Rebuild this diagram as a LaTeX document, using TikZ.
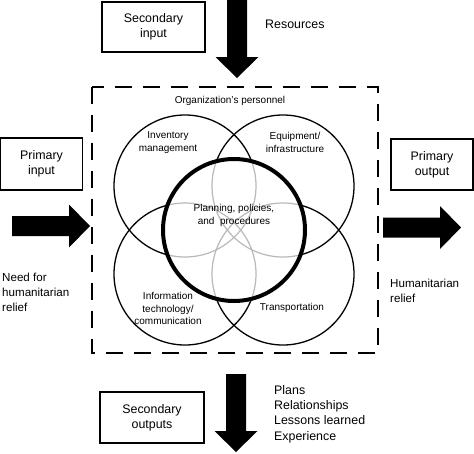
\documentclass[tikz,border=0pt]{standalone}
\usepackage{fontspec}
\setmainfont{Liberation Sans}
\usepackage{tikz}

\tikzset{
  inbox/.style={draw, line width=1.1pt, minimum height=50pt, align=center, font=\fontsize{12.4}{15}\selectfont},
  sidetext/.style={align=left, inner sep=0pt, font=\fontsize{11.6}{15}\selectfont},
  bigtext/.style={align=left, inner sep=0pt, font=\fontsize{12.4}{15.3}\selectfont},
  areatext/.style={align=center, inner sep=0pt, font=\fontsize{10}{12.3}\selectfont}
}

\begin{document}
\begin{tikzpicture}[x=1pt, y=-1pt]
    \useasboundingbox (0,0) rectangle (474,453);

    % organization
    \draw[line width=1.3pt, dash pattern=on 17pt off 11pt] (92,87) rectangle (378,353);
    \node[areatext] (staff) at (230,101) {Organization's personnel};

    \coordinate (inv) at (185,186);
    \coordinate (equ) at (283,186);
    \coordinate (ict) at (185,274);
    \coordinate (tra) at (283,274);
    \coordinate (ppp) at (234,230);

    \foreach \c in {inv, equ, ict, tra}
      \draw[line width=1.3pt] (\c) circle (71);
    \fill[white] (ppp) circle (71);
    \begin{scope}
      \clip (ppp) circle (71);
      \foreach \c in {inv, equ, ict, tra}
        \draw[gray!55, line width=1.2pt] (\c) circle (71);
    \end{scope}
    \draw[line width=4pt] (ppp) circle (71);

    \node[areatext] (invtext) at (168,142.5) {Inventory\\management};
    \node[areatext] (equtext) at (295,142.5) {Equipment/\\infrastructure};
    \node[areatext] (ppptext) at (234,215.5) {Planning, policies,\\and\ \ procedures};
    \node[areatext] (icttext) at (168,308.5) {Information\\technology/\\communication};
    \node[areatext] (tratext) at (292,308) {Transportation};

    % inputs and outputs
    \node[inbox, minimum width=103pt] (secin) at (153.5,27) {Secondary\\input};
    \node[inbox, minimum width=82pt, minimum height=52pt] (primin) at (41.5,164) {Primary\\input};
    \node[inbox, minimum width=82pt, minimum height=51pt] (primout) at (432,164.5) {Primary\\output};
    \node[inbox, minimum width=104pt, minimum height=51pt] (secout) at (152,417.5) {Secondary\\outputs};

    \node[bigtext, anchor=west] (res) at (265,24) {Resources};
    \node[sidetext, anchor=west] (need) at (2,292) {Need for\\humanitarian\\relief};
    \node[sidetext, anchor=west] (relief) at (390,290.5) {Humanitarian\\relief};
    \node[bigtext, anchor=west] (gain) at (274,414) {Plans\\Relationships\\Lessons learned\\Experience};

    % block arrows
    \foreach \x/\y/\a in {237/0/-90, 236/374/-90, 12/226/0, 383/227.5/0}
      \fill[shift={(\x,\y)}, rotate=\a] (0,-10) -- (57,-10) -- (57,-21.5) -- (78,0)
        -- (57,21.5) -- (57,10) -- (0,10) -- cycle;
\end{tikzpicture}
\end{document}
